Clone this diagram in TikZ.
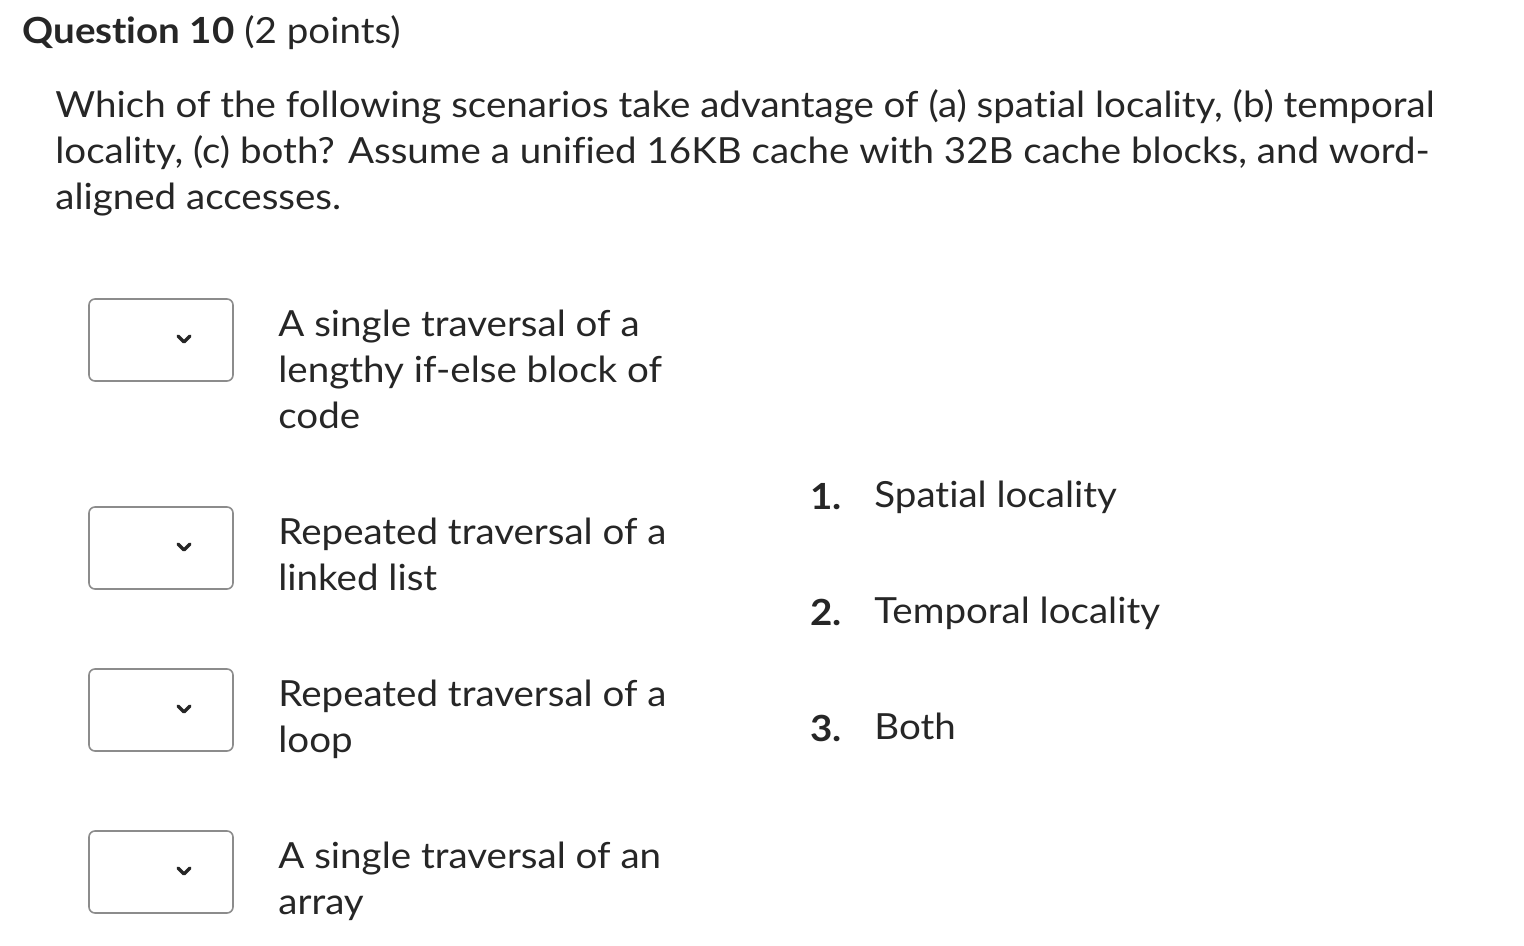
\documentclass[tikz,border=0pt]{standalone}
\usepackage{fontspec}
\setmainfont{Lato}[Ligatures=NoCommon,FakeStretch=1.07]
\begin{document}
\begin{tikzpicture}[x=0.5pt,y=-0.5pt,
  txt/.style={anchor=base west,inner sep=0pt,font=\fontsize{18}{23}\selectfont,text=black!85},
  ddbox/.style={draw=black!45,line width=0.8pt,rounded corners=3pt,fill=white},
  chev/.style={line width=1.6pt,black!85,line cap=round,line join=round}]
\useasboundingbox (0,0) rectangle (1524,946);
\node[txt,font=\fontsize{18}{20}\selectfont] (title) at (22,44) {\textbf{Question 10} (2 points)};
\node[txt] (q1) at (55,118) {Which of the following scenarios take advantage of (a) spatial locality, (b) temporal};
\node[txt] (q2) at (55,164) {locality, (c) both? Assume a unified 16KB cache with 32B cache blocks, and word-};
\node[txt] (q3) at (55,210) {aligned accesses.};
\foreach \y/\n in {299/a,507/b,669/c,831/d}{
  \draw[ddbox] (89,\y) rectangle (233,\y+82);
  \draw[chev] (178,\y+37) -- (184,\y+43) -- (190,\y+37);
}
\node[txt] (a1) at (278,336) {A single traversal of a};
\node[txt] (a2) at (278,382) {lengthy if-else block of};
\node[txt] (a3) at (278,428) {code};
\node[txt] (b1) at (278,544) {Repeated traversal of a};
\node[txt] (b2) at (278,590) {linked list};
\node[txt] (c1) at (278,706) {Repeated traversal of a};
\node[txt] (c2) at (278,752) {loop};
\node[txt] (d1) at (278,868) {A single traversal of an};
\node[txt] (d2) at (278,914) {array};
\node[txt] (n1) at (810,509) {\textbf{1.}};
\node[txt] (l1) at (874,507) {Spatial locality};
\node[txt] (n2) at (810,625) {\textbf{2.}};
\node[txt] (l2) at (874,623) {Temporal locality};
\node[txt] (n3) at (810,741) {\textbf{3.}};
\node[txt] (l3) at (874,739) {Both};
\end{tikzpicture}
\end{document}
